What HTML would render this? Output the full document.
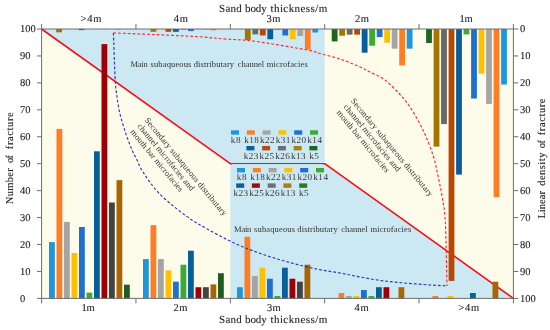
<!DOCTYPE html>
<html><head><meta charset="utf-8"><title>Fracture chart</title>
<style>html,body{margin:0;padding:0;background:#fff}svg{display:block}text{font-family:"Liberation Serif","Times New Roman",serif;fill:#262626;text-rendering:geometricPrecision;stroke:#262626;stroke-width:0.12px}</style>
</head><body>
<svg width="550" height="330" viewBox="0 0 550 330">
<rect width="550" height="330" fill="#ffffff"/>
<rect x="41.6" y="29.0" width="471.80" height="269.40" fill="#FDFBEA"/>
<polygon points="41.6,29.0 324.68,29.0 324.68,163.70 513.4,298.4 230.32,298.4 230.32,163.70" fill="#CCE9F3"/>
<polyline points="41.6,29.0 230.32,163.70 324.68,163.70 513.4,298.4" fill="none" stroke="#F5101E" stroke-width="1.6" stroke-linejoin="round"/>
<rect x="232" y="164.1" width="91" height="34" fill="#CCE9F3"/>
<g shape-rendering="auto">
<rect x="49.00" y="242.10" width="5.8" height="56.30" fill="#1E96DC"/>
<rect x="56.50" y="128.95" width="5.8" height="169.45" fill="#FF7D24"/>
<rect x="64.00" y="221.89" width="5.8" height="76.51" fill="#A5A5A5"/>
<rect x="71.50" y="253.01" width="5.8" height="45.39" fill="#FFC000"/>
<rect x="79.00" y="227.01" width="5.8" height="71.39" fill="#1F6FCE"/>
<rect x="86.50" y="292.61" width="5.8" height="5.79" fill="#3DAA35"/>
<rect x="94.00" y="151.31" width="5.8" height="147.09" fill="#05609A"/>
<rect x="101.50" y="44.09" width="5.8" height="254.31" fill="#9C0006"/>
<rect x="109.00" y="202.49" width="5.8" height="95.91" fill="#424242"/>
<rect x="116.50" y="180.13" width="5.8" height="118.27" fill="#AA6400"/>
<rect x="124.00" y="284.66" width="5.8" height="13.74" fill="#1F5C1F"/>
<rect x="143.00" y="259.07" width="5.8" height="39.33" fill="#1E96DC"/>
<rect x="150.50" y="225.12" width="5.8" height="73.28" fill="#FF7D24"/>
<rect x="158.00" y="259.07" width="5.8" height="39.33" fill="#A5A5A5"/>
<rect x="165.50" y="270.38" width="5.8" height="28.02" fill="#FFC000"/>
<rect x="173.00" y="281.70" width="5.8" height="16.70" fill="#1F6FCE"/>
<rect x="180.50" y="264.72" width="5.8" height="33.67" fill="#3DAA35"/>
<rect x="188.00" y="250.72" width="5.8" height="47.68" fill="#05609A"/>
<rect x="195.50" y="287.22" width="5.8" height="11.18" fill="#9C0006"/>
<rect x="203.00" y="287.22" width="5.8" height="11.18" fill="#424242"/>
<rect x="210.50" y="284.39" width="5.8" height="14.01" fill="#AA6400"/>
<rect x="218.00" y="273.21" width="5.8" height="25.19" fill="#1F5C1F"/>
<rect x="237.00" y="287.22" width="5.8" height="11.18" fill="#1E96DC"/>
<rect x="244.50" y="236.71" width="5.8" height="61.69" fill="#FF7D24"/>
<rect x="252.00" y="276.04" width="5.8" height="22.36" fill="#A5A5A5"/>
<rect x="259.50" y="267.69" width="5.8" height="30.71" fill="#FFC000"/>
<rect x="267.00" y="278.73" width="5.8" height="19.67" fill="#1F6FCE"/>
<rect x="274.50" y="295.98" width="5.8" height="2.42" fill="#3DAA35"/>
<rect x="282.00" y="267.69" width="5.8" height="30.71" fill="#05609A"/>
<rect x="289.50" y="278.73" width="5.8" height="19.67" fill="#9C0006"/>
<rect x="297.00" y="281.70" width="5.8" height="16.70" fill="#424242"/>
<rect x="304.50" y="264.72" width="5.8" height="33.67" fill="#AA6400"/>
<rect x="338.50" y="293.01" width="5.8" height="5.39" fill="#FF7D24"/>
<rect x="346.00" y="295.98" width="5.8" height="2.42" fill="#A5A5A5"/>
<rect x="353.50" y="295.98" width="5.8" height="2.42" fill="#FFC000"/>
<rect x="361.00" y="290.05" width="5.8" height="8.35" fill="#1F6FCE"/>
<rect x="368.50" y="295.98" width="5.8" height="2.42" fill="#3DAA35"/>
<rect x="376.00" y="287.22" width="5.8" height="11.18" fill="#05609A"/>
<rect x="383.50" y="287.22" width="5.8" height="11.18" fill="#9C0006"/>
<rect x="398.50" y="287.22" width="5.8" height="11.18" fill="#AA6400"/>
<rect x="432.50" y="295.98" width="5.8" height="2.42" fill="#FF7D24"/>
<rect x="447.50" y="295.98" width="5.8" height="2.42" fill="#FFC000"/>
<rect x="470.00" y="293.01" width="5.8" height="5.39" fill="#05609A"/>
<rect x="492.50" y="281.70" width="5.8" height="16.70" fill="#AA6400"/>
<rect x="501.10" y="29.0" width="5.8" height="55.50" fill="#1E96DC"/>
<rect x="493.60" y="29.0" width="5.8" height="168.11" fill="#FF7D24"/>
<rect x="486.10" y="29.0" width="5.8" height="74.89" fill="#A5A5A5"/>
<rect x="478.60" y="29.0" width="5.8" height="44.72" fill="#FFC000"/>
<rect x="471.10" y="29.0" width="5.8" height="69.51" fill="#1F6FCE"/>
<rect x="463.60" y="29.0" width="5.8" height="5.39" fill="#3DAA35"/>
<rect x="456.10" y="29.0" width="5.8" height="145.61" fill="#0A5C9C"/>
<rect x="448.60" y="29.0" width="5.8" height="251.89" fill="#B84700"/>
<rect x="441.10" y="29.0" width="5.8" height="95.10" fill="#686868"/>
<rect x="433.60" y="29.0" width="5.8" height="117.59" fill="#A67500"/>
<rect x="426.10" y="29.0" width="5.8" height="14.01" fill="#1F6420"/>
<rect x="406.74" y="29.0" width="5.8" height="19.67" fill="#1E96DC"/>
<rect x="399.24" y="29.0" width="5.8" height="36.37" fill="#FF7D24"/>
<rect x="391.74" y="29.0" width="5.8" height="19.67" fill="#A5A5A5"/>
<rect x="384.24" y="29.0" width="5.8" height="13.74" fill="#FFC000"/>
<rect x="376.74" y="29.0" width="5.8" height="8.08" fill="#1F6FCE"/>
<rect x="369.24" y="29.0" width="5.8" height="16.70" fill="#3DAA35"/>
<rect x="361.74" y="29.0" width="5.8" height="23.71" fill="#0A5C9C"/>
<rect x="354.24" y="29.0" width="5.8" height="5.66" fill="#B84700"/>
<rect x="346.74" y="29.0" width="5.8" height="5.66" fill="#686868"/>
<rect x="339.24" y="29.0" width="5.8" height="6.73" fill="#A67500"/>
<rect x="331.74" y="29.0" width="5.8" height="12.39" fill="#1F6420"/>
<rect x="312.38" y="29.0" width="5.8" height="3.50" fill="#1E96DC"/>
<rect x="304.88" y="29.0" width="5.8" height="20.47" fill="#FF7D24"/>
<rect x="297.38" y="29.0" width="5.8" height="7.00" fill="#A5A5A5"/>
<rect x="289.88" y="29.0" width="5.8" height="10.24" fill="#FFC000"/>
<rect x="282.38" y="29.0" width="5.8" height="6.47" fill="#1F6FCE"/>
<rect x="274.88" y="29.0" width="5.8" height="0.81" fill="#3DAA35"/>
<rect x="267.38" y="29.0" width="5.8" height="10.24" fill="#0A5C9C"/>
<rect x="259.88" y="29.0" width="5.8" height="6.47" fill="#B84700"/>
<rect x="252.38" y="29.0" width="5.8" height="5.39" fill="#686868"/>
<rect x="244.88" y="29.0" width="5.8" height="11.05" fill="#A67500"/>
<rect x="210.52" y="29.0" width="5.8" height="1.35" fill="#FF7D24"/>
<rect x="203.02" y="29.0" width="5.8" height="0.59" fill="#A5A5A5"/>
<rect x="195.52" y="29.0" width="5.8" height="0.59" fill="#FFC000"/>
<rect x="188.02" y="29.0" width="5.8" height="2.10" fill="#1F6FCE"/>
<rect x="180.52" y="29.0" width="5.8" height="0.59" fill="#3DAA35"/>
<rect x="173.02" y="29.0" width="5.8" height="2.80" fill="#0A5C9C"/>
<rect x="165.52" y="29.0" width="5.8" height="2.80" fill="#B84700"/>
<rect x="150.52" y="29.0" width="5.8" height="2.80" fill="#A67500"/>
<rect x="116.16" y="29.0" width="5.8" height="0.48" fill="#FF7D24"/>
<rect x="101.16" y="29.0" width="5.8" height="0.48" fill="#FFC000"/>
<rect x="78.66" y="29.0" width="5.8" height="1.08" fill="#0A5C9C"/>
<rect x="56.16" y="29.0" width="5.8" height="3.34" fill="#A67500"/>
</g>
<path d="M113.4,32.9 C113.7,40.1 114.5,65.8 115.0,76.0 C115.5,86.2 115.8,87.7 116.6,94.0 C117.4,100.3 118.4,107.3 120.0,114.0 C121.6,120.7 124.0,128.0 126.0,134.0 C128.0,140.0 130.2,145.7 132.0,150.0 C133.8,154.3 135.2,156.4 137.0,160.0 C138.8,163.6 139.2,166.2 142.9,171.8 C146.6,177.4 152.2,186.3 159.3,193.6 C166.4,200.9 177.5,209.6 185.5,215.5 C193.5,221.4 199.1,224.4 207.3,229.0 C215.5,233.6 225.4,239.0 234.5,243.2 C243.6,247.4 252.7,250.8 261.8,254.0 C270.9,257.2 279.9,259.8 289.0,262.3 C298.1,264.8 307.9,267.2 316.4,269.0 C324.9,270.8 332.7,271.7 340.0,273.0 C347.3,274.3 353.3,275.8 360.0,277.0 C366.7,278.2 373.3,279.5 380.0,280.4 C386.7,281.3 391.7,281.8 400.0,282.6 C408.3,283.4 422.2,284.5 430.0,285.0 C437.8,285.5 444.2,285.7 447.0,285.8" fill="none" stroke="#3434B4" stroke-width="1.15" stroke-dasharray="2.8 2.0"/>
<path d="M113.4,32.9 C122.8,33.3 155.6,34.6 170.0,35.3 C184.4,35.9 190.8,36.2 200.0,36.8 C209.2,37.4 215.9,38.3 225.0,39.0 C234.1,39.7 241.2,39.5 254.5,41.2 C267.8,43.0 293.8,47.5 304.7,49.5 C315.6,51.5 314.1,51.9 320.0,53.5 C325.9,55.1 333.3,56.8 340.0,59.0 C346.7,61.2 355.0,64.8 360.0,67.0 C365.0,69.2 365.9,69.9 370.0,72.0 C374.1,74.1 379.7,76.0 384.5,79.6 C389.3,83.2 394.8,88.9 399.0,93.5 C403.2,98.1 406.0,100.9 410.0,107.0 C414.0,113.1 419.1,121.8 423.0,130.0 C426.9,138.2 430.8,148.3 433.3,156.0 C435.8,163.7 436.6,169.3 438.0,176.0 C439.4,182.7 440.8,188.3 442.0,196.0 C443.2,203.7 444.5,207.0 445.3,222.0 C446.1,237.0 446.7,275.3 447.0,286.0" fill="none" stroke="#FF2626" stroke-width="1.15" stroke-dasharray="2.8 2.0"/>
<rect x="231.0" y="130.3" width="8" height="4.4" fill="#1E96DC"/>
<text x="235.9" y="143.2" font-size="9.2" text-anchor="middle" letter-spacing="0.45" style="fill:#383838;stroke:none">k8</text>
<rect x="246.8" y="130.3" width="8" height="4.4" fill="#FF7D24"/>
<text x="251.7" y="143.2" font-size="9.2" text-anchor="middle" letter-spacing="0.45" style="fill:#383838;stroke:none">k18</text>
<rect x="262.6" y="130.3" width="8" height="4.4" fill="#A5A5A5"/>
<text x="267.5" y="143.2" font-size="9.2" text-anchor="middle" letter-spacing="0.45" style="fill:#383838;stroke:none">k22</text>
<rect x="278.4" y="130.3" width="8" height="4.4" fill="#FFC000"/>
<text x="283.3" y="143.2" font-size="9.2" text-anchor="middle" letter-spacing="0.45" style="fill:#383838;stroke:none">k31</text>
<rect x="294.2" y="130.3" width="8" height="4.4" fill="#1F6FCE"/>
<text x="299.1" y="143.2" font-size="9.2" text-anchor="middle" letter-spacing="0.45" style="fill:#383838;stroke:none">k20</text>
<rect x="310.0" y="130.3" width="8" height="4.4" fill="#3DAA35"/>
<text x="314.9" y="143.2" font-size="9.2" text-anchor="middle" letter-spacing="0.45" style="fill:#383838;stroke:none">k14</text>
<rect x="246.4" y="146" width="8" height="4.4" fill="#0B5FA0"/>
<text x="251.3" y="158.7" font-size="9.2" text-anchor="middle" letter-spacing="0.45" style="fill:#383838;stroke:none">k23</text>
<rect x="262.1" y="146" width="8" height="4.4" fill="#B84A0A"/>
<text x="267.0" y="158.7" font-size="9.2" text-anchor="middle" letter-spacing="0.45" style="fill:#383838;stroke:none">k25</text>
<rect x="277.9" y="146" width="8" height="4.4" fill="#6e6e6e"/>
<text x="282.8" y="158.7" font-size="9.2" text-anchor="middle" letter-spacing="0.45" style="fill:#383838;stroke:none">k26</text>
<rect x="293.6" y="146" width="8" height="4.4" fill="#A88010"/>
<text x="298.5" y="158.7" font-size="9.2" text-anchor="middle" letter-spacing="0.45" style="fill:#383838;stroke:none">k13</text>
<rect x="309.4" y="146" width="8" height="4.4" fill="#1F641F"/>
<text x="314.3" y="158.7" font-size="9.2" text-anchor="middle" letter-spacing="0.45" style="fill:#383838;stroke:none">k5</text>
<rect x="237.0" y="168" width="8" height="4.4" fill="#1E96DC"/>
<text x="241.9" y="180.3" font-size="9.2" text-anchor="middle" letter-spacing="0.45" style="fill:#383838;stroke:none">k8</text>
<rect x="252.8" y="168" width="8" height="4.4" fill="#FF7D24"/>
<text x="257.7" y="180.3" font-size="9.2" text-anchor="middle" letter-spacing="0.45" style="fill:#383838;stroke:none">k18</text>
<rect x="268.6" y="168" width="8" height="4.4" fill="#A5A5A5"/>
<text x="273.5" y="180.3" font-size="9.2" text-anchor="middle" letter-spacing="0.45" style="fill:#383838;stroke:none">k22</text>
<rect x="284.4" y="168" width="8" height="4.4" fill="#FFC000"/>
<text x="289.3" y="180.3" font-size="9.2" text-anchor="middle" letter-spacing="0.45" style="fill:#383838;stroke:none">k31</text>
<rect x="300.2" y="168" width="8" height="4.4" fill="#1F6FCE"/>
<text x="305.1" y="180.3" font-size="9.2" text-anchor="middle" letter-spacing="0.45" style="fill:#383838;stroke:none">k20</text>
<rect x="316.0" y="168" width="8" height="4.4" fill="#3DAA35"/>
<text x="320.9" y="180.3" font-size="9.2" text-anchor="middle" letter-spacing="0.45" style="fill:#383838;stroke:none">k14</text>
<rect x="236.2" y="183.4" width="8" height="4.4" fill="#0B5FA0"/>
<text x="241.1" y="195.5" font-size="9.2" text-anchor="middle" letter-spacing="0.45" style="fill:#383838;stroke:none">k23</text>
<rect x="251.9" y="183.4" width="8" height="4.4" fill="#9C0A10"/>
<text x="256.8" y="195.5" font-size="9.2" text-anchor="middle" letter-spacing="0.45" style="fill:#383838;stroke:none">k25</text>
<rect x="267.7" y="183.4" width="8" height="4.4" fill="#727272"/>
<text x="272.6" y="195.5" font-size="9.2" text-anchor="middle" letter-spacing="0.45" style="fill:#383838;stroke:none">k26</text>
<rect x="283.4" y="183.4" width="8" height="4.4" fill="#B07A10"/>
<text x="288.3" y="195.5" font-size="9.2" text-anchor="middle" letter-spacing="0.45" style="fill:#383838;stroke:none">k13</text>
<rect x="299.2" y="183.4" width="8" height="4.4" fill="#2A7A2A"/>
<text x="304.1" y="195.5" font-size="9.2" text-anchor="middle" letter-spacing="0.45" style="fill:#383838;stroke:none">k5</text>
<text x="130.5" y="66.6" font-size="8.5" textLength="17.2" lengthAdjust="spacing" style="fill:#303030;stroke:none">Main</text>
<text x="150.5" y="66.6" font-size="8.5" textLength="40.9" lengthAdjust="spacing" style="fill:#303030;stroke:none">subaqueous</text>
<text x="193.7" y="66.6" font-size="8.5" textLength="40.4" lengthAdjust="spacing" style="fill:#303030;stroke:none">distributary</text>
<text x="237.7" y="66.6" font-size="8.5" textLength="26.4" lengthAdjust="spacing" style="fill:#303030;stroke:none">channel</text>
<text x="266.8" y="66.6" font-size="8.5" textLength="40.9" lengthAdjust="spacing" style="fill:#303030;stroke:none">microfacies</text>
<text x="234.1" y="232.4" font-size="8.5" textLength="17.2" lengthAdjust="spacing" style="fill:#303030;stroke:none">Main</text>
<text x="254.1" y="232.4" font-size="8.5" textLength="40.9" lengthAdjust="spacing" style="fill:#303030;stroke:none">subaqueous</text>
<text x="297.3" y="232.4" font-size="8.5" textLength="40.4" lengthAdjust="spacing" style="fill:#303030;stroke:none">distributary</text>
<text x="341.3" y="232.4" font-size="8.5" textLength="26.4" lengthAdjust="spacing" style="fill:#303030;stroke:none">channel</text>
<text x="370.4" y="232.4" font-size="8.5" textLength="40.9" lengthAdjust="spacing" style="fill:#303030;stroke:none">microfacies</text>
<g transform="translate(144.2,120.4) rotate(50.5)" font-size="8.5" letter-spacing="0.13" style="fill:#303030;stroke:none">
<text x="0" y="0.0" letter-spacing="0.17" style="fill:#303030;stroke:none">Secondary subaqueous distributary</text>
<text x="0" y="9.2" letter-spacing="0.08" style="fill:#303030;stroke:none">channel microfacies and</text>
<text x="0" y="18.4" letter-spacing="0.08" style="fill:#303030;stroke:none">mouth bar microfacies</text>
</g>
<g transform="translate(350.4,101.10000000000001) rotate(50.5)" font-size="8.5" letter-spacing="0.13" style="fill:#303030;stroke:none">
<text x="0" y="0.0" letter-spacing="0.17" style="fill:#303030;stroke:none">Secondary subaqueous distributary</text>
<text x="0" y="9.2" letter-spacing="0.08" style="fill:#303030;stroke:none">channel microfacies and</text>
<text x="0" y="18.4" letter-spacing="0.08" style="fill:#303030;stroke:none">mouth bar microfacies</text>
</g>
<g stroke="#6e6e6e" stroke-width="1" fill="none">
<line x1="41.6" y1="24" x2="41.6" y2="303.4"/>
<line x1="513.4" y1="24" x2="513.4" y2="303.4"/>
<line x1="37.0" y1="29.0" x2="518.4" y2="29.0"/>
<line x1="37.0" y1="298.4" x2="518.4" y2="298.4"/>
<line x1="135.96" y1="24" x2="135.96" y2="29.0"/>
<line x1="135.96" y1="298.4" x2="135.96" y2="303.4"/>
<line x1="230.32" y1="24" x2="230.32" y2="29.0"/>
<line x1="230.32" y1="298.4" x2="230.32" y2="303.4"/>
<line x1="324.68" y1="24" x2="324.68" y2="29.0"/>
<line x1="324.68" y1="298.4" x2="324.68" y2="303.4"/>
<line x1="419.04" y1="24" x2="419.04" y2="29.0"/>
<line x1="419.04" y1="298.4" x2="419.04" y2="303.4"/>
<line x1="37.0" y1="55.94" x2="41.6" y2="55.94"/>
<line x1="513.4" y1="55.94" x2="518.4" y2="55.94"/>
<line x1="37.0" y1="82.88" x2="41.6" y2="82.88"/>
<line x1="513.4" y1="82.88" x2="518.4" y2="82.88"/>
<line x1="37.0" y1="109.82" x2="41.6" y2="109.82"/>
<line x1="513.4" y1="109.82" x2="518.4" y2="109.82"/>
<line x1="37.0" y1="136.76" x2="41.6" y2="136.76"/>
<line x1="513.4" y1="136.76" x2="518.4" y2="136.76"/>
<line x1="37.0" y1="163.70" x2="41.6" y2="163.70"/>
<line x1="513.4" y1="163.70" x2="518.4" y2="163.70"/>
<line x1="37.0" y1="190.64" x2="41.6" y2="190.64"/>
<line x1="513.4" y1="190.64" x2="518.4" y2="190.64"/>
<line x1="37.0" y1="217.58" x2="41.6" y2="217.58"/>
<line x1="513.4" y1="217.58" x2="518.4" y2="217.58"/>
<line x1="37.0" y1="244.52" x2="41.6" y2="244.52"/>
<line x1="513.4" y1="244.52" x2="518.4" y2="244.52"/>
<line x1="37.0" y1="271.46" x2="41.6" y2="271.46"/>
<line x1="513.4" y1="271.46" x2="518.4" y2="271.46"/>
</g>
<text x="20" y="32.00" font-size="10.5">100</text>
<text x="520" y="32.00" font-size="10.5">0</text>
<text x="20" y="59.00" font-size="10.5">90</text>
<text x="520" y="59.00" font-size="10.5">10</text>
<text x="20" y="86.00" font-size="10.5">80</text>
<text x="520" y="86.00" font-size="10.5">20</text>
<text x="20" y="113.00" font-size="10.5">70</text>
<text x="520" y="113.00" font-size="10.5">30</text>
<text x="20" y="140.00" font-size="10.5">60</text>
<text x="520" y="140.00" font-size="10.5">40</text>
<text x="20" y="167.00" font-size="10.5">50</text>
<text x="520" y="167.00" font-size="10.5">50</text>
<text x="20" y="194.00" font-size="10.5">40</text>
<text x="520" y="194.00" font-size="10.5">60</text>
<text x="20" y="221.00" font-size="10.5">30</text>
<text x="520" y="221.00" font-size="10.5">70</text>
<text x="20" y="248.00" font-size="10.5">20</text>
<text x="520" y="248.00" font-size="10.5">80</text>
<text x="20" y="275.00" font-size="10.5">10</text>
<text x="520" y="275.00" font-size="10.5">90</text>
<text x="20" y="302.00" font-size="10.5">0</text>
<text x="520" y="302.00" font-size="10.5">100</text>
<text x="81.5" y="310.6" font-size="10.5" textLength="13.1" lengthAdjust="spacing">1m</text>
<text x="173.6" y="310.6" font-size="10.5" textLength="13.8" lengthAdjust="spacing">2m</text>
<text x="267.0" y="310.6" font-size="10.5" textLength="13.6" lengthAdjust="spacing">3m</text>
<text x="354.4" y="310.6" font-size="10.5" textLength="14.2" lengthAdjust="spacing">4m</text>
<text x="458.2" y="310.6" font-size="10.5" textLength="21.0" lengthAdjust="spacing">&gt;4m</text>
<text x="80.5" y="21.5" font-size="10.5" textLength="20.8" lengthAdjust="spacing">&gt;4m</text>
<text x="173.8" y="21.5" font-size="10.5" textLength="14.0" lengthAdjust="spacing">4m</text>
<text x="266.5" y="21.5" font-size="10.5" textLength="13.9" lengthAdjust="spacing">3m</text>
<text x="355.0" y="21.5" font-size="10.5" textLength="14.0" lengthAdjust="spacing">2m</text>
<text x="459.5" y="21.5" font-size="10.5" textLength="13.1" lengthAdjust="spacing">1m</text>
<text x="219.1" y="11.8" font-size="11" textLength="22.6" lengthAdjust="spacing" style="fill:#262626;stroke:#262626">Sand</text>
<text x="245.0" y="11.8" font-size="11" textLength="21.8" lengthAdjust="spacing" style="fill:#262626;stroke:#262626">body</text>
<text x="270.5" y="11.8" font-size="11" textLength="56.7" lengthAdjust="spacing" style="fill:#262626;stroke:#262626">thickness/m</text>
<text x="219.1" y="322.9" font-size="11" textLength="22.6" lengthAdjust="spacing" style="fill:#262626;stroke:#262626">Sand</text>
<text x="245.0" y="322.9" font-size="11" textLength="21.8" lengthAdjust="spacing" style="fill:#262626;stroke:#262626">body</text>
<text x="270.5" y="322.9" font-size="11" textLength="56.7" lengthAdjust="spacing" style="fill:#262626;stroke:#262626">thickness/m</text>
<text transform="translate(12.7,204.2) rotate(-90)" font-size="10.5" textLength="36.0" lengthAdjust="spacing">Number</text>
<text transform="translate(12.7,163) rotate(-90)" font-size="10.5" textLength="8.0" lengthAdjust="spacing">of</text>
<text transform="translate(12.7,149.2) rotate(-90)" font-size="10.5" textLength="36.9" lengthAdjust="spacing">fracture</text>
<text transform="translate(544.6,218.6) rotate(-90)" font-size="10.5" textLength="27.5" lengthAdjust="spacing">Linear</text>
<text transform="translate(544.6,185.8) rotate(-90)" font-size="10.5" textLength="33.2" lengthAdjust="spacing">density</text>
<text transform="translate(544.6,148.3) rotate(-90)" font-size="10.5" textLength="8.4" lengthAdjust="spacing">of</text>
<text transform="translate(544.6,135.2) rotate(-90)" font-size="10.5" textLength="36.7" lengthAdjust="spacing">fracture</text>
</svg></body></html>
